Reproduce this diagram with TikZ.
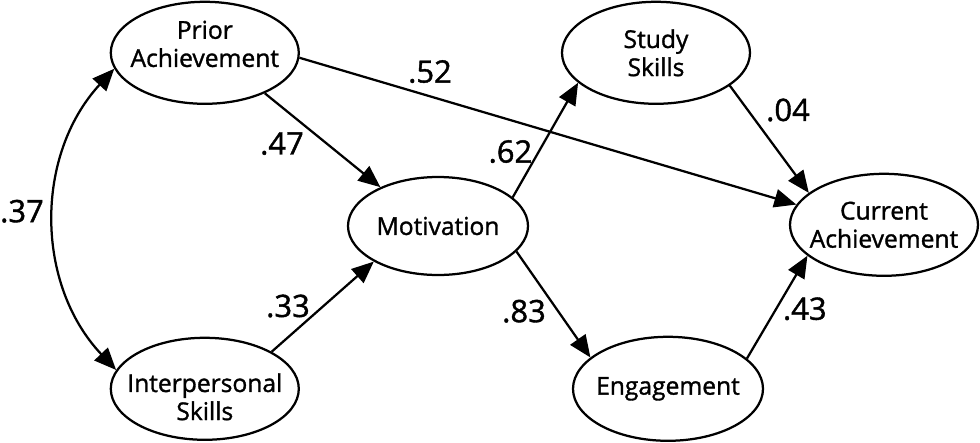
\documentclass[tikz,border=0pt]{standalone}
\usepackage{fontspec}
\setmainfont{Open Sans}[FakeBold=1.3]
\usepackage{tikz}
\usetikzlibrary{shapes.geometric, arrows.meta, positioning, calc}
\tikzset{
    latent/.style={ellipse, draw=black, line width=1.6pt, minimum width=4.7cm, minimum height=2.55cm,
                   inner xsep=-0.6cm, inner ysep=0pt, align=center,
                   font=\fontsize{17.5}{20}\selectfont},
    coef/.style={font=\fontsize{22}{24}\selectfont, inner sep=0pt},
    arrow/.style={-{Triangle[length=0.55cm, width=0.46cm]}, line width=1.6pt, black},
    corrarrow/.style={{Triangle[length=0.55cm, width=0.46cm]}-{Triangle[length=0.55cm, width=0.46cm]}, line width=1.6pt, black},
}
\begin{document}
\begin{tikzpicture}
            \useasboundingbox (0,0) rectangle (24.5,-11.05);

            \node[latent, text depth=0.45cm] (prior) at (5.12, -1.32) {Prior\\Achievement};
            \node[latent, text height=1.57cm] (interp) at (5.12, -9.72) {Interpersonal\\Skills};
            \node[latent, minimum width=4.5cm, minimum height=2.45cm] (motiv) at (10.95, -5.65) {Motivation};
            \node[latent] (study) at (16.4, -1.32) {Study\\Skills};
            \node[latent, minimum width=4.75cm, minimum height=2.6cm] (engage) at (16.7, -9.72) {Engagement};
            \node[latent] (current) at (22.1, -5.62) {Current\\Achievement};

            \draw[corrarrow] (prior.190) to[bend right=43] (interp.168);
            \draw[arrow] (prior.-34) -- (motiv.146);
            \draw[arrow] (interp.29) -- (motiv.209);
            \draw[arrow] (prior.-3) -- (current.167);
            \draw[arrow] (motiv.21) -- (study.201);
            \draw[arrow] (motiv.-18) -- (engage.158);
            \draw[arrow] (study.-24) -- (current.157);
            \draw[arrow] (engage.21) -- (current.202);

            \node[coef] (c37) at (0.55, -5.28) {.37};
            \node[coef] (c47) at (7.05, -3.59) {.47};
            \node[coef] (c33) at (7.2, -7.65) {.33};
            \node[coef] (c52) at (10.75, -1.79) {.52};
            \node[coef] (c62) at (12.76, -3.79) {.62};
            \node[coef] (c83) at (13.1, -7.78) {.83};
            \node[coef] (c04) at (19.7, -2.75) {.04};
            \node[coef] (c43) at (20.12, -7.72) {.43};
\end{tikzpicture}
\end{document}
